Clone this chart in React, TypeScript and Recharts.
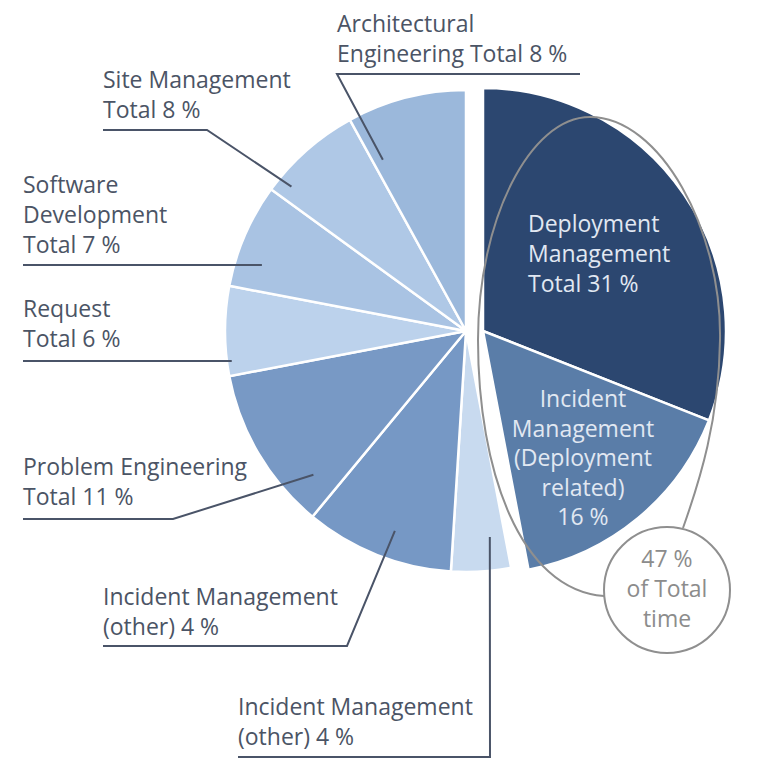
import React from 'react';
import { PieChart, Pie, Cell } from 'recharts';

// slices, clockwise from 12 o'clock
const categories = [
  'Deployment Management',
  'Incident Management (Deployment related)',
  'Incident Management (other)',
  'Incident Management (other) ',
  'Problem Engineering',
  'Request',
  'Software Development',
  'Site Management',
  'Architectural Engineering',
];
const shares = [31, 16, 4, 10, 11, 6, 7, 7, 8];
const exploded = [true, true, false, false, false, false, false, false, false];
const labelLines = [
  ['Deployment', 'Management', 'Total 31 %'],
  ['Incident', 'Management', '(Deployment', 'related)', '16 %'],
  ['Incident Management', '(other) 4 %'],
  ['Incident Management', '(other) 4 %'],
  ['Problem Engineering', 'Total 11 %'],
  ['Request', 'Total 6 %'],
  ['Software', 'Development', 'Total 7 %'],
  ['Site Management', 'Total 8 %'],
  ['Architectural', 'Engineering Total 8 %'],
];
const totalNote = ['47 %', 'of Total', 'time'];

const colors = ['#2c4770', '#5a7da8', '#c8daef', '#7698c5', '#7899c5', '#bcd2ec', '#a9c3e3', '#afc8e6', '#9bb8db'];

const data = categories.map((name, i) => ({ name, value: shares[i] }));

const FONT = "'Open Sans', sans-serif";
const FS = 23;
const TEXT = '#4b5465';
const LEADER = '#4a5468';

// label placement: text origin, underline / elbow points, anchor (deg clockwise from top, radius fraction)
const outerLayout: Record<number, { x: number; y: number; line: number[][]; deg: number; rf: number }> = {
  2: { x: 238, y: 715, line: [[238, 757], [490, 757]], deg: 173.4, rf: 0.86 },
  3: { x: 103, y: 605, line: [[103, 646], [347, 646]], deg: 199.6, rf: 0.88 },
  4: { x: 23, y: 475, line: [[23, 519], [173, 519]], deg: 226.7, rf: 0.87 },
  5: { x: 23, y: 317, line: [[23, 361]], deg: 262.7, rf: 0.98 },
  6: { x: 23, y: 193, line: [[23, 265]], deg: 287.9, rf: 0.89 },
  7: { x: 103, y: 88, line: [[103, 130], [207, 130]], deg: 309.6, rf: 0.94 },
  8: { x: 337, y: 32, line: [[580, 74], [337, 74]], deg: 334.1, rf: 0.79 },
};
const innerLayout: Record<number, { x: number; y: number; step: number; anchor: 'start' | 'middle' }> = {
  0: { x: 528, y: 232, step: 30, anchor: 'start' },
  1: { x: 583, y: 407, step: 29.5, anchor: 'middle' },
};

const renderOuter = (props: any) => {
  const { cx, cy, outerRadius, index } = props;
  const lay = outerLayout[index];
  if (!lay) return null;
  const rad = (lay.deg * Math.PI) / 180;
  const ax = cx + outerRadius * lay.rf * Math.sin(rad);
  const ay = cy - outerRadius * lay.rf * Math.cos(rad);
  const pts = [...lay.line, [ax, ay]].map((p) => p.join(',')).join(' ');
  return (
    <g key={`outer-${index}`}>
      <polyline points={pts} fill="none" stroke={LEADER} strokeWidth={2} />
      {labelLines[index].map((t, j) => (
        <text key={j} x={lay.x} y={lay.y + j * 30} fill={TEXT} fontSize={FS} fontFamily={FONT}>
          {t}
        </text>
      ))}
    </g>
  );
};

const renderInner = (props: any) => {
  const { index } = props;
  const lay = innerLayout[index];
  if (!lay) return null;
  return (
    <g key={`inner-${index}`}>
      {labelLines[index].map((t, j) => (
        <text key={j} x={lay.x} y={lay.y + j * lay.step} textAnchor={lay.anchor} fill="#e1e8f2" fontSize={FS} fontFamily={FONT}>
          {t}
        </text>
      ))}
    </g>
  );
};

export default function App() {
  return (
    <div style={{ position: 'absolute', left: 0, top: 0, width: 768, height: 772, background: '#fff' }}>
      <PieChart width={768} height={772} margin={{ top: 0, right: 0, bottom: 0, left: 0 }}>
        <Pie
          data={data}
          dataKey="value"
          cx={466}
          cy={331}
          outerRadius={241}
          startAngle={90}
          endAngle={-270}
          stroke="#fff"
          strokeWidth={2.5}
          label={renderOuter}
          labelLine={false}
          isAnimationActive={false}
        >
          {data.map((d, i) => (
            <Cell key={i} fill={exploded[i] ? 'transparent' : colors[i]} stroke={exploded[i] ? 'none' : '#fff'} />
          ))}
        </Pie>
        <Pie
          data={data}
          dataKey="value"
          cx={483}
          cy={331}
          outerRadius={243}
          startAngle={90}
          endAngle={-270}
          stroke="#fff"
          strokeWidth={2.5}
          label={renderInner}
          labelLine={false}
          isAnimationActive={false}
        >
          {data.map((d, i) => (
            <Cell key={i} fill={exploded[i] ? colors[i] : 'transparent'} stroke={exploded[i] ? '#fff' : 'none'} />
          ))}
        </Pie>
      </PieChart>
      <svg width={768} height={772} style={{ position: 'absolute', left: 0, top: 0, pointerEvents: 'none' }}>
        <path
          d="M 604 596 C 520 590, 478 470, 478 340 C 478 220, 530 117, 590 117 C 660 117, 722 230, 720 340 C 719 420, 700 480, 683 528"
          fill="none"
          stroke="#8f8f8f"
          strokeWidth={2}
        />
        <circle cx={667} cy={590} r={63} fill="#fff" stroke="#8f8f8f" strokeWidth={2} />
        {totalNote.map((t, j) => (
          <text key={j} x={667} y={567 + j * 30} textAnchor="middle" fill="#8c8c8c" fontSize={FS} fontFamily={FONT}>
            {t}
          </text>
        ))}
      </svg>
    </div>
  );
}
